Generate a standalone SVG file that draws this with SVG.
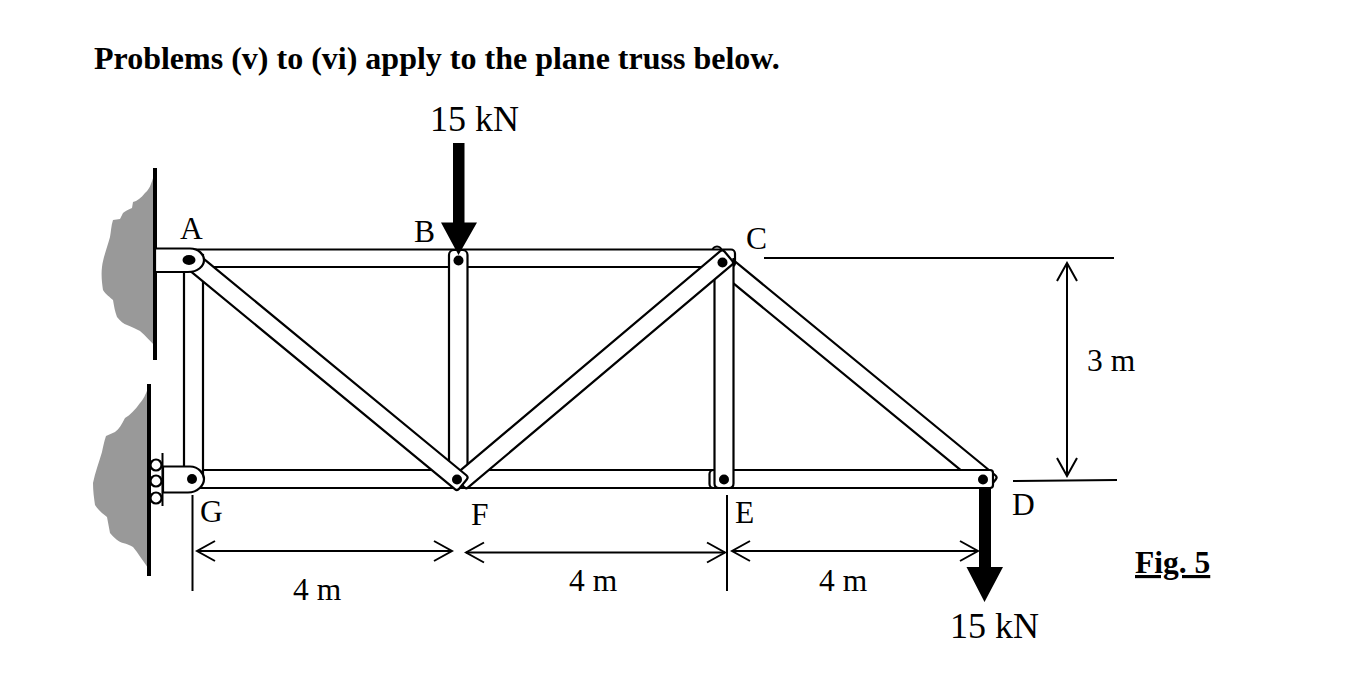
<svg xmlns="http://www.w3.org/2000/svg" width="1366" height="680" viewBox="0 0 1366 680">
<style>
text{font-family:"Liberation Serif","Times New Roman",serif;fill:#000}
.t{font-size:31.500px}
.b{font-size:36px}
.h{font-size:32px;font-weight:bold}
.m{fill:#fff;stroke:#000;stroke-width:2.200}
.l{fill:none;stroke:#000;stroke-width:2}
.w{fill:none;stroke:#000;stroke-width:4}
.g{fill:#999}
.p{fill:#000}
.d{fill:none;stroke:#000;stroke-width:2;marker-start:url(#o);marker-end:url(#o)}
</style>
<defs>
<marker id="o" markerUnits="userSpaceOnUse" viewBox="-20 -12 22 24" refX="0" refY="0" markerWidth="22" markerHeight="24" orient="auto-start-reverse">
<path d="M-18,-10 L0,0 L-18,10" fill="none" stroke="#000" stroke-width="2"/>
</marker>
</defs>
<rect width="1366" height="680" fill="#fff"/>
<text id="title" class="h" x="94" y="69">Problems (v) to (vi) apply to the plane truss below.</text>
<g id="wall-A">
<path class="g" d="M154,175C151,185 149,190 145,193C141,198 137,201 133,202L132,208C128,210 125,211 123,213L120,219L113,220C111,226 111,232 110,237C107,248 103,258 102,267C101,275 102,283 103,290C106,295 110,297 113,300C114,306 115,312 117,317C120,321 124,324 127,325C132,327 136,329 140,331C146,336 150,341 154,345Z"/>
<path class="w" d="M155,168V360"/>
</g>
<g id="wall-G">
<path class="g" d="M148,388C146,394 143,400 140,403C135,410 130,415 125,418C122,424 119,429 115,432L106,436C104,442 103,447 102,452C99,462 95,473 93,483C93,491 94,498 95,505C98,510 103,514 107,517C108,522 109,528 110,533C114,538 119,542 123,543C127,544 130,545 133,547C138,553 143,561 148,568Z"/>
<path class="w" d="M149,384V576"/>
</g>
<g id="members">
<rect id="member-CD" class="m" x="-10" y="-9" width="358" height="18" rx="3" transform="translate(723,263.200) rotate(39.400)"/>
<rect id="bottom-chord" class="m" x="190" y="470" width="803" height="18" rx="3"/>
<rect class="m" x="709.500" y="470" width="20" height="18" rx="4"/>
<circle class="m" cx="717" cy="251" r="4.500"/>
<rect id="top-chord" class="m" x="175" y="249.500" width="560" height="17.500" rx="4"/>
<rect id="member-AG" class="m" x="184" y="255" width="19" height="220"/>
<rect id="member-BF" class="m" x="449" y="250" width="18.500" height="234" rx="5"/>
<path id="member-CE" class="m" d="M714.500,258V483.500Q714.500,488 719,488H729Q733.500,488 733.500,483.500V258"/>
<rect id="member-FC" class="m" x="4" y="-9" width="351" height="18" rx="3" transform="translate(457,485) rotate(-40.150)"/>
<rect id="member-AF" class="m" x="2" y="-9" width="353" height="18" rx="3" transform="translate(189,258.300) rotate(39.500)"/>
<path id="link-A" class="m" d="M155,248.500H190C199,248.500 204,255 204,260C204,266 198,272 188,272H155Z"/>
<path id="link-G" class="m" d="M163,466.500H190C199,466.500 204,474 204,479C204,485 198,492.500 188,492.500H163Z"/>
</g>
<g id="rollers">
<circle class="m" cx="156" cy="465" r="5.500"/>
<circle class="m" cx="156" cy="481" r="5.500"/>
<circle class="m" cx="156" cy="498" r="5.500"/>
<path class="l" d="M162.500,453V506"/>
</g>
<g id="pins">
<ellipse id="node-A" class="p" cx="189" cy="260" rx="6.500" ry="5"/>
<circle id="node-B" class="p" cx="458.500" cy="260.500" r="5"/>
<circle id="node-C" class="p" cx="722.500" cy="262.500" r="5"/>
<circle id="node-G" class="p" cx="192" cy="479" r="5"/>
<circle id="node-F" class="p" cx="457" cy="479.500" r="5"/>
<circle id="node-E" class="p" cx="724" cy="479.500" r="5"/>
<circle id="node-D" class="p" cx="983" cy="479.500" r="5"/>
</g>
<g id="connectors">
<path class="p" d="M453,143H464.500V222.500H477L458.500,255L441,222.500H453Z"/>
<path class="p" d="M979,488H991V567H1003L984.500,602L966.500,567H979Z"/>
<path class="l" d="M192.500,495V591"/>
<path class="l" d="M727,495V591"/>
<path class="l" d="M764,258H1114"/>
<path class="l" d="M1013,481L1117,480"/>
<path class="d" d="M197,551H452"/>
<path class="d" d="M466,552.500H725"/>
<path class="d" d="M732,551H978"/>
<path class="d" d="M1067,263V476"/>
</g>
<g id="labels">
<text class="b" x="430" y="131">15 kN</text>
<text class="b" x="950" y="638">15 kN</text>
<text class="t" x="180" y="239">A</text>
<text class="t" x="414" y="242">B</text>
<text class="t" x="746" y="249">C</text>
<text class="t" x="1012" y="515">D</text>
<text class="t" x="735" y="523">E</text>
<text class="t" x="471" y="525">F</text>
<text class="t" x="200" y="522">G</text>
<text class="t" x="293" y="600">4 m</text>
<text class="t" x="569" y="591">4 m</text>
<text class="t" x="819" y="591">4 m</text>
<text class="t" x="1087" y="371">3 m</text>
<text class="t" x="1135" y="573" font-weight="bold" text-decoration="underline">Fig. 5</text>
</g>
</svg>
